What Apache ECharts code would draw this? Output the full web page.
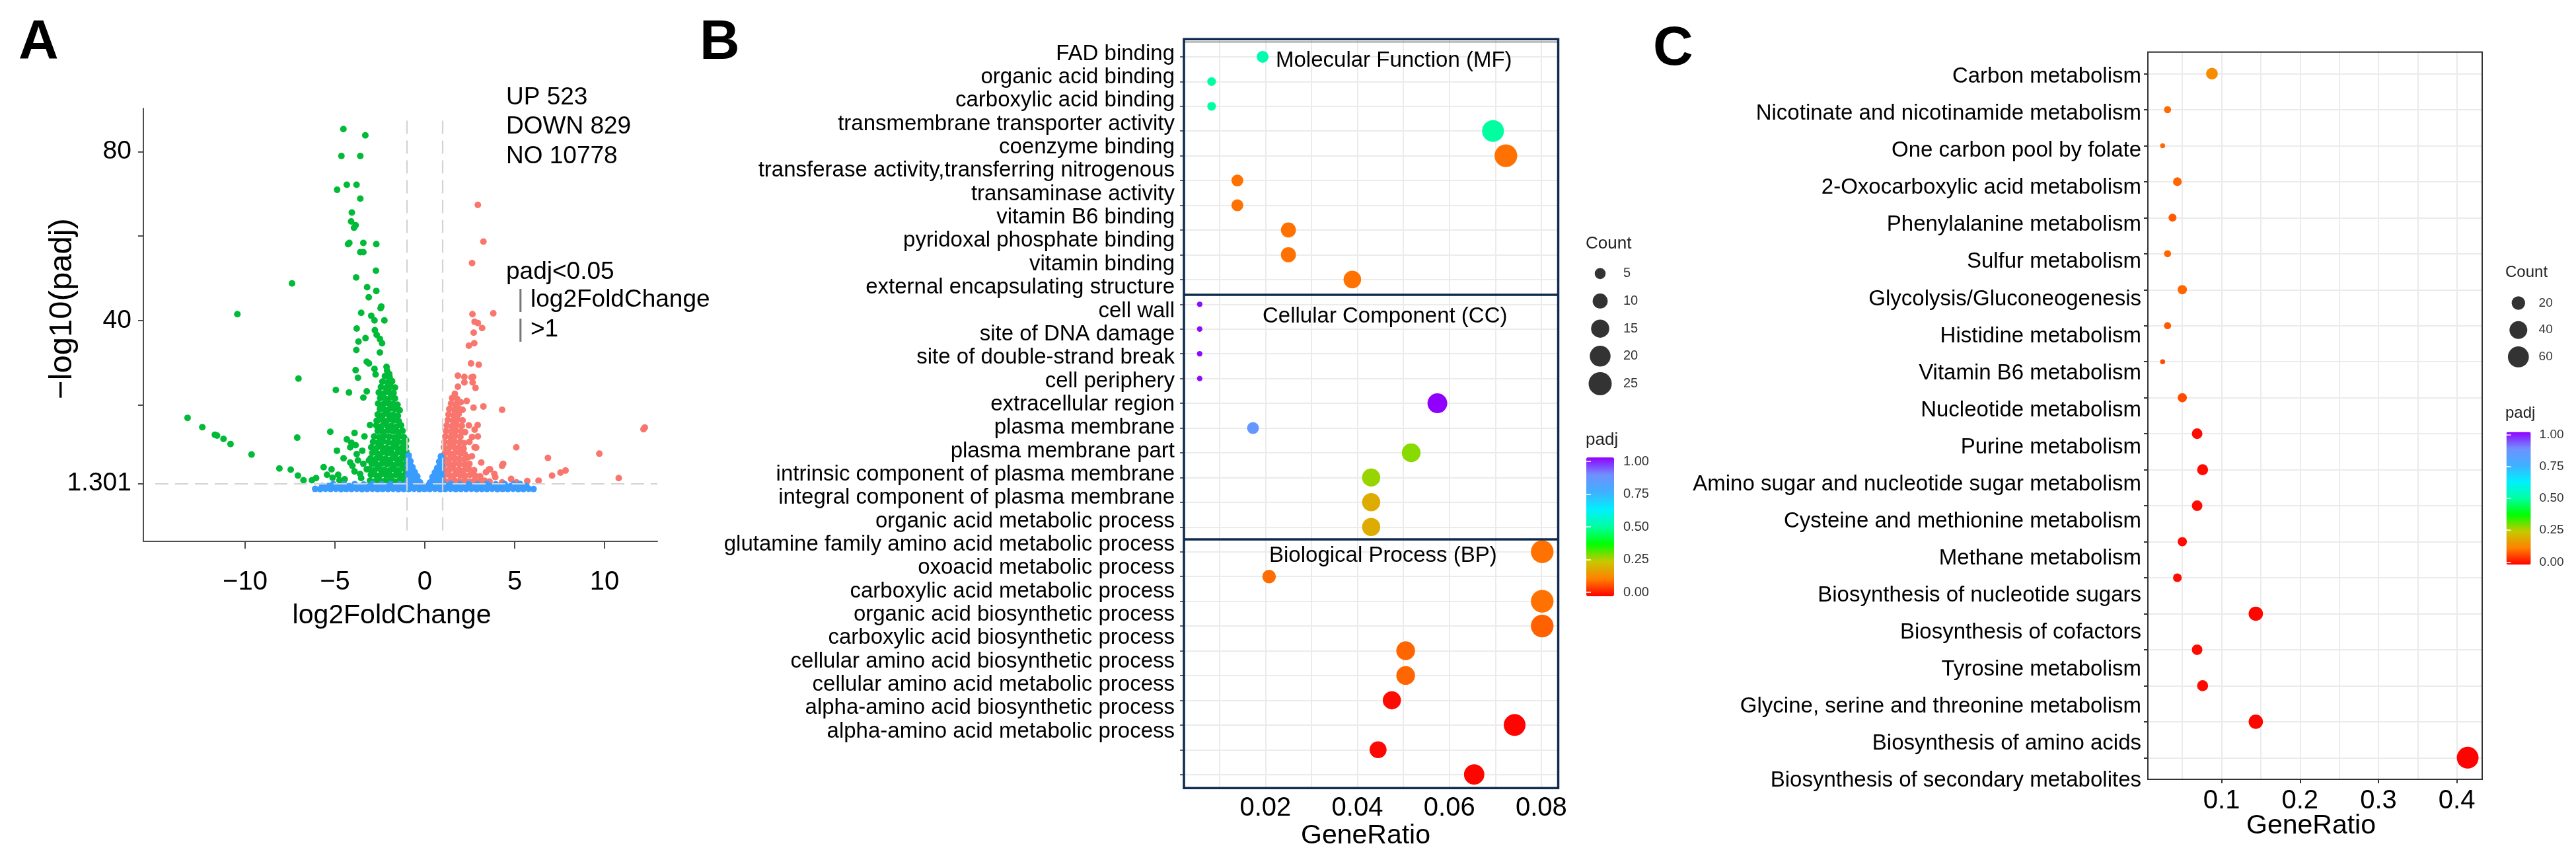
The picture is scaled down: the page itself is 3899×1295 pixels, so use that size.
<!DOCTYPE html>
<html><head><meta charset="utf-8">
<script src="https://cdn.jsdelivr.net/npm/echarts@6/dist/echarts.min.js"></script>
<style>html,body{margin:0;padding:0;background:#fff}#c{width:3899px;height:1295px}</style>
</head><body><div id="c"></div>
<script>
// ===================== Panel A: volcano =====================
const volcanoXTicks = [-10, -5, 0, 5, 10];
const volcanoYTicks = [1.301, 20, 40, 60, 80];
const volcanoYLabels = [1.301, 40, 80];
const fcThresholds = [-1, 1];
const padjThreshold = 1.301;
const volcanoSummary = ['UP 523', 'DOWN 829', 'NO 10778'];
const volcanoRule = ['padj<0.05', 'log2FoldChange', '>1'];

const downGenes = [
 [-4.53,85.4],[-3.31,83.9],[-4.64,79.0],[-3.59,79.0],[-4.88,71.0],[-4.34,72.2],[-3.80,72.2],[-3.59,68.9],[-4.06,65.6],[-4.10,63.5],
 [-3.85,62.6],[-3.94,62.0],[-4.20,58.4],[-4.27,58.1],[-3.42,58.4],[-2.70,58.1],[-3.59,56.2],[-3.42,56.2],[-2.72,51.8],[-3.82,50.2],
 [-7.39,48.8],[-3.21,47.9],[-2.70,47.0],[-3.12,45.5],[-2.42,43.3],[-2.46,42.9],[-10.43,41.5],[-7.03,26.2],[-13.20,16.9],[-12.38,14.7],
 [-11.68,12.9],[-11.56,12.7],[-11.20,11.9],[-10.81,10.7],[-9.64,8.2],[-7.10,12.2],[-8.09,4.9],[-7.46,4.6],[-7.06,3.2],[-6.75,2.1],[-6.28,2.1],
 [-6.05,2.6],[-5.63,5.2],[-5.44,3.4],[-5.19,4.7],[-5.13,2.7],[-5.26,13.6],[-4.95,23.5],[-4.89,9.1],[-4.82,3.4],[-4.75,2.1],
 [-4.52,7.3],[-4.46,2.35],[-4.34,11.8],[-4.22,22.9],[-4.15,9.9],[-4.15,6.3],[-4.09,11.0],[-4.03,5.5],[-3.91,13.3],[-3.91,4.2],
 [-3.85,10.4],[-3.79,8.3],[-3.72,6.8],[-3.60,3.6],[-3.54,2.6],[-3.48,9.1],[-3.42,6.0],[-3.36,12.5],[-3.23,4.7],[-3.11,6.8],
 [-3.05,15.2],[-2.68,16.2],[-3.85,28.2],[-3.72,26.4],[-3.79,38.1],[-3.69,35.0],[-3.81,33.0],[-3.42,21.7],[-3.23,30.2],[-3.11,29.8],
 [-3.30,35.8],[-3.23,23.2],[-2.80,28.5],[-2.74,27.2],[-2.78,37.7],[-2.68,36.6],[-2.50,35.6],[-2.38,34.6],[-2.50,32.4],[-2.25,40.0],
 [-2.13,29.0],[-2.80,40.0],[-2.98,41.1],[-3.54,41.8],
 [-3.05,2.0],[-2.78,1.8],[-2.50,2.1],[-2.22,1.9],[-1.95,2.0],[-1.68,1.8],[-1.41,2.1],[-1.15,1.9],[-1.03,2.4],
 [-3.00,3.4],[-2.70,3.2],[-2.43,3.5],[-2.15,3.3],[-1.86,3.1],[-1.60,3.4],[-1.33,3.2],[-1.08,3.5],
 [-3.08,4.7],[-2.80,4.5],[-2.52,4.8],[-2.25,4.6],[-1.97,4.4],[-1.70,4.7],[-1.42,4.5],[-1.14,4.8],
 [-2.95,6.0],[-2.66,5.8],[-2.38,6.1],[-2.10,5.9],[-1.82,5.7],[-1.55,6.0],[-1.27,5.8],[-1.04,6.1],
 [-3.02,7.3],[-2.74,7.1],[-2.46,7.4],[-2.18,7.2],[-1.90,7.0],[-1.62,7.3],[-1.35,7.1],[-1.08,7.4],
 [-2.92,8.6],[-2.64,8.4],[-2.36,8.7],[-2.08,8.5],[-1.80,8.3],[-1.53,8.6],[-1.26,8.4],[-1.03,8.8],
 [-2.98,9.9],[-2.70,9.7],[-2.42,10.0],[-2.14,9.8],[-1.86,9.6],[-1.58,9.9],[-1.31,9.7],[-1.06,10.1],
 [-2.88,11.2],[-2.60,11.0],[-2.32,11.3],[-2.04,11.1],[-1.76,10.9],[-1.48,11.2],[-1.21,11.0],[-1.04,11.6],
 [-2.82,12.5],[-2.54,12.3],[-2.26,12.6],[-1.98,12.4],[-1.70,12.2],[-1.43,12.5],[-1.16,12.3],
 [-2.62,13.8],[-2.34,13.6],[-2.06,13.9],[-1.78,13.7],[-1.50,13.5],[-1.24,13.8],
 [-2.70,15.1],[-2.42,14.9],[-2.14,15.2],[-1.86,15.0],[-1.58,14.8],[-1.32,15.1],
 [-2.56,16.4],[-2.28,16.2],[-2.00,16.5],[-1.72,16.3],[-1.45,16.1],
 [-2.62,17.7],[-2.34,17.5],[-2.06,17.8],[-1.78,17.6],[-1.50,17.4],
 [-2.50,19.0],[-2.22,18.8],[-1.94,19.1],[-1.66,18.9],[-1.40,18.7],
 [-2.60,20.3],[-2.32,20.1],[-2.04,20.4],[-1.76,20.2],[-1.52,20.0],
 [-2.48,21.6],[-2.20,21.4],[-1.92,21.7],[-1.66,21.5],
 [-2.56,22.9],[-2.28,22.7],[-2.00,23.0],[-1.74,22.8],
 [-2.44,24.2],[-2.16,24.0],[-1.88,24.3],[-1.66,24.1],
 [-2.36,25.5],[-2.08,25.3],[-1.82,25.6],
 [-2.22,26.8],[-1.96,26.6],[-2.10,28.1],[-1.98,27.3]
];

const upGenes = [
 [2.95,67.4],[3.26,58.7],[2.63,53.6],[12.17,14.2],[12.24,14.6],[9.71,8.4],[6.85,7.4],[7.08,3.2],[7.55,3.9],[7.83,4.4],[10.79,2.6],
 [2.65,41.5],[3.81,41.7],[2.77,39.7],[2.95,39.4],[3.19,38.2],[2.72,37.1],[2.45,34.0],[2.75,34.6],[2.57,29.8],[3.00,29.5],
 [2.20,26.6],[1.84,26.9],[2.60,26.5],[2.66,25.3],[2.82,24.0],[2.33,20.9],[2.71,19.3],[3.26,19.6],[4.30,18.8],[2.94,15.2],
 [2.77,14.1],[2.95,12.5],[2.77,9.9],[5.09,9.9],[3.14,6.3],[4.36,6.0],[4.30,5.5],[3.63,4.7],[3.87,3.6],[4.30,1.6],
 [4.80,2.4],[5.10,1.6],[6.33,2.0],[1.73,19.9],[2.10,18.8],[1.67,22.6],[1.84,24.3],[2.20,25.3],[2.69,26.6],[2.45,15.1],
 [2.48,11.2],[2.62,7.8],[3.40,4.0],[5.70,1.9],[2.63,12.35],[2.86,9.85],[3.56,4.65],[3.92,2.85],
 [1.08,2.0],[1.36,1.8],[1.64,2.1],[1.92,1.9],[2.20,2.0],[2.48,1.8],[2.76,2.1],[3.04,1.9],[3.32,2.0],[3.60,1.8],
 [1.12,3.4],[1.40,3.2],[1.68,3.5],[1.96,3.3],[2.24,3.1],[2.52,3.4],[2.80,3.2],[3.08,3.0],
 [1.06,4.7],[1.34,4.5],[1.62,4.8],[1.90,4.6],[2.18,4.4],[2.46,4.7],[2.74,4.5],
 [1.10,6.0],[1.38,5.8],[1.66,6.1],[1.94,5.9],[2.22,5.7],[2.48,6.0],
 [1.08,7.3],[1.36,7.1],[1.64,7.4],[1.92,7.2],[2.20,7.0],[2.40,7.5],
 [1.12,8.6],[1.40,8.4],[1.68,8.7],[1.96,8.5],[2.22,8.3],
 [1.06,9.9],[1.34,9.7],[1.62,10.0],[1.90,9.8],[2.16,9.6],
 [1.10,11.2],[1.38,11.0],[1.66,11.3],[1.94,11.1],[2.18,10.9],
 [1.14,12.5],[1.42,12.3],[1.70,12.6],[1.98,12.4],
 [1.18,13.8],[1.46,13.6],[1.74,13.9],[2.02,13.7],[2.24,13.5],
 [1.22,15.1],[1.50,14.9],[1.78,15.2],[2.06,15.0],
 [1.28,16.4],[1.56,16.2],[1.84,16.5],[2.10,16.3],
 [1.32,17.7],[1.60,17.5],[1.88,17.8],
 [1.36,19.0],[1.64,18.8],[1.90,19.1],
 [1.46,20.3],[1.72,20.1],[2.00,20.6],
 [1.52,21.6],[1.80,21.4]
];

const noGenes = [
 [-6.10,0.05],[-5.82,0.00],[-5.53,0.08],[-5.24,0.02],[-4.95,0.06],[-4.66,0.00],[-4.37,0.05],[-4.08,0.02],[-3.79,0.07],[-3.50,0.00],
 [-3.21,0.04],[-2.92,0.06],[-2.63,0.01],[-2.34,0.05],[-2.05,0.03],[-1.76,0.07],[-1.47,0.00],[-1.18,0.04],[-0.89,0.02],[-0.60,0.06],
 [-0.31,0.00],[-0.02,0.05],[0.27,0.02],[0.56,0.07],[0.85,0.00],[1.14,0.04],[1.43,0.06],[1.72,0.01],[2.01,0.05],[2.30,0.03],
 [2.59,0.07],[2.88,0.00],[3.17,0.04],[3.46,0.02],[3.75,0.06],[4.04,0.00],[4.33,0.05],[4.62,0.03],[4.91,0.07],[5.20,0.01],
 [5.49,0.04],[5.78,0.06],[6.05,0.02],
 [-5.70,0.72],[-5.37,0.75],[-5.08,0.70],[-4.79,0.66],[-4.50,0.74],[-4.21,0.69],[-3.92,0.73],[-3.63,0.67],[-3.34,0.71],[-3.05,0.75],
 [-2.76,0.68],[-2.47,0.72],[-2.18,0.70],[-1.89,0.66],[-1.60,0.74],[-1.31,0.69],[-1.02,0.73],[-0.73,0.67],[-0.44,0.71],[-0.15,0.75],
 [0.14,0.68],[0.43,0.72],[0.72,0.70],[1.01,0.66],[1.30,0.74],[1.59,0.69],[1.88,0.73],[2.17,0.67],[2.46,0.71],[2.75,0.75],
 [3.04,0.68],[3.33,0.72],[3.62,0.70],[3.91,0.66],[4.20,0.74],[4.49,0.69],[4.78,0.73],[5.07,0.67],[5.36,0.71],[5.65,0.75],
 [-5.10,1.20],[-4.50,1.12],[-3.90,1.18],[-3.40,1.10],[-2.90,1.20],[-2.40,1.14],[-1.90,1.17],[-1.40,1.12],[-1.05,1.20],
 [1.05,1.15],[1.45,1.20],[1.95,1.12],[2.45,1.18],[2.95,1.10],[3.45,1.20],[3.95,1.14],[4.45,1.17],[4.95,1.12],[5.30,1.20],
 [-0.90,8.0],[-0.90,7.3],[-0.92,6.8],[-0.80,6.6],[-0.93,5.6],[-0.80,5.5],[-0.69,5.2],[-0.92,4.4],[-0.78,4.3],[-0.65,4.4],
 [-0.56,4.0],[-0.93,3.2],[-0.80,3.1],[-0.66,3.2],[-0.52,3.1],[-0.42,3.0],[-0.92,2.0],[-0.78,2.0],[-0.64,2.1],[-0.50,2.0],
 [-0.37,1.9],[-0.27,1.6],[-0.88,1.2],[-0.60,1.2],[-0.35,1.1],
 [0.90,7.8],[0.90,7.1],[0.92,6.8],[0.80,6.5],[0.93,5.6],[0.80,5.4],[0.69,5.0],[0.92,4.4],[0.78,4.3],[0.65,4.3],
 [0.56,3.9],[0.93,3.2],[0.80,3.1],[0.66,3.1],[0.52,3.0],[0.43,2.9],[0.92,2.0],[0.78,2.0],[0.64,2.0],[0.50,1.9],
 [0.38,1.8],[0.28,1.5],[0.88,1.2],[0.60,1.2],[0.35,1.1]
];

// ===================== Panel B: GO enrichment =====================
const goTerms = [
 'FAD binding','organic acid binding','carboxylic acid binding','transmembrane transporter activity','coenzyme binding',
 'transferase activity,transferring nitrogenous','transaminase activity','vitamin B6 binding','pyridoxal phosphate binding','vitamin binding',
 'external encapsulating structure','cell wall','site of DNA damage','site of double-strand break','cell periphery',
 'extracellular region','plasma membrane','plasma membrane part','intrinsic component of plasma membrane','integral component of plasma membrane',
 'organic acid metabolic process','glutamine family amino acid metabolic process','oxoacid metabolic process','carboxylic acid metabolic process','organic acid biosynthetic process',
 'carboxylic acid biosynthetic process','cellular amino acid biosynthetic process','cellular amino acid metabolic process','alpha-amino acid biosynthetic process','alpha-amino acid metabolic process'
];
const goGeneRatio = [0.0194,0.0083,0.0083,0.0695,0.0723,0.0139,0.0139,0.0250,0.0250,0.0389,
                     0.0057,0.0057,0.0057,0.0057,0.0574,0.0173,0.0517,0.0430,0.0430,0.0430,
                     0.0802,0.0208,0.0802,0.0802,0.0505,0.0505,0.0475,0.0742,0.0445,0.0654];
const goCount = [6,3,3,22,24,6,6,10,10,14, 1,1,1,1,18,6,16,15,15,15, 24,8,24,24,16,16,15,22,13,19];
const goPadj = [0.52,0.5,0.5,0.5,0.11,0.11,0.11,0.11,0.11,0.11,
                0.99,0.99,0.99,0.99,1.0,0.85,0.29,0.28,0.2,0.2,
                0.11,0.105,0.11,0.095,0.1,0.1,0.01,0.004,0.006,0.005];
const goSections = ['Molecular Function (MF)', 'Cellular Component (CC)', 'Biological Process (BP)'];
const goSectionBreaks = [10.6, 20.5];
const goXTicks = [0.02, 0.04, 0.06, 0.08];
const goXGrid = [0.01, 0.02, 0.03, 0.04, 0.05, 0.06, 0.07, 0.08];
const goCountLegend = [5, 10, 15, 20, 25];
const padjLegend = [0, 0.25, 0.5, 0.75, 1];

// ===================== Panel C: KEGG enrichment =====================
const keggTerms = [
 'Carbon metabolism','Nicotinate and nicotinamide metabolism','One carbon pool by folate','2-Oxocarboxylic acid metabolism','Phenylalanine metabolism',
 'Sulfur metabolism','Glycolysis/Gluconeogenesis','Histidine metabolism','Vitamin B6 metabolism','Nucleotide metabolism',
 'Purine metabolism','Amino sugar and nucleotide sugar metabolism','Cysteine and methionine metabolism','Methane metabolism','Biosynthesis of nucleotide sugars',
 'Biosynthesis of cofactors','Tyrosine metabolism','Glycine, serine and threonine metabolism','Biosynthesis of amino acids','Biosynthesis of secondary metabolites'
];
const keggGeneRatio = [0.0877,0.0311,0.0248,0.0436,0.0374,0.0311,0.0499,0.0311,0.0248,0.0499,
                       0.0688,0.0758,0.0688,0.0499,0.0436,0.1436,0.0688,0.0758,0.1436,0.4138];
const keggCount = [14,5,4,7,6,5,8,5,4,8, 11,12,11,8,7,23,11,12,23,66];
const keggPadj = [0.146,0.104,0.104,0.1,0.088,0.1,0.1,0.088,0.073,0.073,
                  0.01,0.01,0.012,0.012,0.012,0.005,0.01,0.01,0.005,0.003];
const keggXTicks = [0.1, 0.2, 0.3, 0.4];
const keggXGrid = [0.05, 0.1, 0.15, 0.2, 0.25, 0.3, 0.35, 0.4];
const keggCountLegend = [20, 40, 60];

// ===================== styling =====================
const FONT = 'Liberation Sans, Arial, Helvetica, sans-serif';
const rainbow = ['#FF0000','#FF8000','#C8C800','#00FF00','#00FFA0','#00F0FF','#40B0FF','#7090FF','#9000FF'];
const NAVY = '#0E2A4E';
const sizeB = c => 1.7 + 6.66 * Math.sqrt(c);
const sizeC = c => 7.5 + 25.5 * Math.sqrt(Math.max(c - 4, 0) / 62);
const minusFmt = v => (v < 0 ? '\u2212' + Math.abs(v) : String(v));

const goRows = goTerms.map((_, i) => i + 1);
const keggRows = keggTerms.map((_, i) => i + 1);

const hidden = { show: false };
function hiddenX(grid) { return { gridIndex: grid, type: 'value', min: 0, max: 1, show: false }; }

const grids = [
  { left: 217, top: 164, width: 778, height: 655 },          // 0 A
  { left: 1792, top: 59.3, width: 566.5, height: 1133 },     // 1 B main
  { left: 1779, top: 64.0, width: 1, height: 1060.2 },       // 2 B labels
  { left: 2400, top: 393, width: 44, height: 208.3 },        // 3 B size legend
  { left: 2401, top: 698, width: 42, height: 198 },          // 4 B colorbar axis
  { left: 3251, top: 78.8, width: 506, height: 1100.2 },     // 5 C main
  { left: 3242, top: 88, width: 1, height: 1121.4 },         // 6 C labels
  { left: 3793, top: 438.2, width: 37.6, height: 122.1 },    // 7 C size legend
  { left: 3793.6, top: 658, width: 37, height: 192.3 }       // 8 C colorbar axis
];

const xAxes = [
  { gridIndex: 0, type: 'value', min: -15.66, max: 12.94,
    axisLine: { onZero: false, lineStyle: { color: '#4d4d4d', width: 2 } },
    axisTick: { customValues: volcanoXTicks, length: 11, lineStyle: { color: '#4d4d4d', width: 2 } },
    axisLabel: { customValues: volcanoXTicks, formatter: minusFmt, fontSize: 40, color: '#000', margin: 42, fontFamily: FONT },
    splitLine: hidden },
  { gridIndex: 1, type: 'value', min: 0.00228, max: 0.08368,
    axisLine: { show: false, onZero: false }, axisTick: { show: false },
    axisLabel: { customValues: goXTicks, formatter: v => v.toFixed(2), fontSize: 40, color: '#000', margin: 11, fontFamily: FONT },
    splitLine: hidden },
  hiddenX(2), hiddenX(3), hiddenX(4),
  { gridIndex: 5, type: 'value', min: 0.006, max: 0.4323,
    axisLine: { show: false, onZero: false },
    axisTick: { customValues: keggXTicks, length: 6, lineStyle: { color: '#333', width: 2 } },
    axisLabel: { customValues: keggXTicks, formatter: v => String(v), fontSize: 40, color: '#000', margin: 13, fontFamily: FONT },
    splitLine: hidden },
  hiddenX(6), hiddenX(7), hiddenX(8)
];

const yAxes = [
  { gridIndex: 0, type: 'value', min: -12.4, max: 90.3,
    axisLine: { onZero: false, lineStyle: { color: '#4d4d4d', width: 2 } },
    axisTick: { customValues: volcanoYTicks, length: 8, lineStyle: { color: '#4d4d4d', width: 2 } },
    axisLabel: { customValues: volcanoYLabels, formatter: v => String(v), fontSize: 39, color: '#000', margin: 18, fontFamily: FONT },
    splitLine: hidden },
  { gridIndex: 1, type: 'value', inverse: true, min: 0.29, max: 30.55,
    axisLine: { show: false, onZero: false },
    axisTick: { customValues: goRows, length: 6, lineStyle: { color: '#666', width: 2 } },
    axisLabel: { show: false }, splitLine: hidden },
  { gridIndex: 2, type: 'category', inverse: true, data: goTerms,
    axisLine: hidden, axisTick: hidden,
    axisLabel: { interval: 0, fontSize: 33, color: '#000', margin: 1, fontFamily: FONT } },
  { gridIndex: 3, type: 'category', inverse: true, position: 'right', data: goCountLegend.map(String),
    axisLine: hidden, axisTick: hidden,
    axisLabel: { interval: 0, fontSize: 20, color: '#333', margin: 13, fontFamily: FONT } },
  { gridIndex: 4, type: 'value', min: 0, max: 1, interval: 0.25, position: 'right', z: 10,
    axisLine: hidden, splitLine: hidden,
    axisTick: { inside: true, length: 7, lineStyle: { color: '#fff', width: 1.5 } },
    axisLabel: { formatter: v => v.toFixed(2), fontSize: 20, color: '#333', margin: 14, fontFamily: FONT } },
  { gridIndex: 4, type: 'value', min: 0, max: 1, interval: 0.25, position: 'left', z: 10,
    axisLine: hidden, splitLine: hidden, axisLabel: hidden,
    axisTick: { inside: true, length: 7, lineStyle: { color: '#fff', width: 1.5 } } },
  { gridIndex: 5, type: 'value', inverse: true, min: 0.4, max: 20.6,
    axisLine: { show: false, onZero: false },
    axisTick: { customValues: keggRows, length: 6, lineStyle: { color: '#333', width: 2 } },
    axisLabel: { show: false }, splitLine: hidden },
  { gridIndex: 6, type: 'category', inverse: true, data: keggTerms,
    axisLine: hidden, axisTick: hidden,
    axisLabel: { interval: 0, fontSize: 33, color: '#000', margin: 1, fontFamily: FONT } },
  { gridIndex: 7, type: 'category', inverse: true, position: 'right', data: keggCountLegend.map(String),
    axisLine: hidden, axisTick: hidden,
    axisLabel: { interval: 0, fontSize: 19, color: '#333', margin: 12, fontFamily: FONT } },
  { gridIndex: 8, type: 'value', min: 0, max: 1, interval: 0.25, position: 'right', z: 10,
    axisLine: hidden, splitLine: hidden,
    axisTick: { inside: true, length: 7, lineStyle: { color: '#fff', width: 1.5 } },
    axisLabel: { formatter: v => v.toFixed(2), fontSize: 19, color: '#333', margin: 13, fontFamily: FONT } },
  { gridIndex: 8, type: 'value', min: 0, max: 1, interval: 0.25, position: 'left', z: 10,
    axisLine: hidden, splitLine: hidden, axisLabel: hidden,
    axisTick: { inside: true, length: 7, lineStyle: { color: '#fff', width: 1.5 } } }
];

const gridLineStyle = { color: '#EBEBEB', width: 2, type: 'solid' };
const series = [
  { type: 'scatter', xAxisIndex: 0, yAxisIndex: 0, data: downGenes, symbolSize: 10, itemStyle: { color: '#00BA38', opacity: 1 }, z: 2 },
  { type: 'scatter', xAxisIndex: 0, yAxisIndex: 0, data: upGenes, symbolSize: 10, itemStyle: { color: '#F8766D', opacity: 1 }, z: 2 },
  { type: 'scatter', xAxisIndex: 0, yAxisIndex: 0, data: noGenes, symbolSize: 10, itemStyle: { color: '#3A9CFF', opacity: 1 }, z: 3 },
  { type: 'scatter', xAxisIndex: 0, yAxisIndex: 0, data: [], z: 5,
    markLine: { z: 5, silent: true, symbol: ['none', 'none'], label: hidden, animation: false,
      lineStyle: { color: '#D3D3D3', width: 2.2, type: [20, 10] },
      data: [
        ...fcThresholds.map(t => [{ coord: [t, -9.8] }, { coord: [t, 88] }]),
        [{ coord: [-15, padjThreshold] }, { coord: [12.94, padjThreshold] }]
      ] } },
  // B
  { type: 'scatter', xAxisIndex: 1, yAxisIndex: 1, data: [], z: 1,
    markLine: { z: 1, silent: true, symbol: ['none', 'none'], label: hidden, animation: false, lineStyle: gridLineStyle,
      data: [...goXGrid.map(v => ({ xAxis: v })), ...goRows.map(r => ({ yAxis: r }))] } },
  { type: 'scatter', xAxisIndex: 1, yAxisIndex: 1, z: 3,
    data: goTerms.map((t, i) => [goGeneRatio[i], i + 1, goPadj[i], goCount[i], t]),
    symbolSize: v => sizeB(v[3]), itemStyle: { opacity: 1 } },
  { type: 'scatter', xAxisIndex: 1, yAxisIndex: 1, data: [], z: 6,
    markLine: { z: 6, silent: true, symbol: ['none', 'none'], label: hidden, animation: false,
      lineStyle: { color: NAVY, width: 3.5, type: 'solid' },
      data: goSectionBreaks.map(r => ({ yAxis: r })) } },
  { type: 'scatter', xAxisIndex: 3, yAxisIndex: 3, data: goCountLegend.map((c, i) => [0.5, i, c]),
    symbolSize: v => sizeB(v[2]), itemStyle: { color: '#000' } },
  // C
  { type: 'scatter', xAxisIndex: 5, yAxisIndex: 6, data: [], z: 1,
    markLine: { z: 1, silent: true, symbol: ['none', 'none'], label: hidden, animation: false, lineStyle: gridLineStyle,
      data: [...keggXGrid.map(v => ({ xAxis: v })), ...keggRows.map(r => ({ yAxis: r }))] } },
  { type: 'scatter', xAxisIndex: 5, yAxisIndex: 6, z: 3,
    data: keggTerms.map((t, i) => [keggGeneRatio[i], i + 1, keggPadj[i], keggCount[i], t]),
    symbolSize: v => sizeC(v[3]), itemStyle: { opacity: 1 } },
  { type: 'scatter', xAxisIndex: 7, yAxisIndex: 8, data: keggCountLegend.map((c, i) => [0.5, i, c]),
    symbolSize: v => sizeC(v[2]), itemStyle: { color: '#000' } }
];

function txt(x, y, text, size, opts) {
  return Object.assign({ type: 'text', x: x, y: y, z: 20, silent: true,
    style: Object.assign({ text: text, fontSize: size, fontFamily: FONT, fill: '#000', align: 'left', verticalAlign: 'middle' }, (opts && opts.style) || {}) },
    (opts && opts.el) || {});
}

const graphics = [
  txt(28, 66, 'A', 84, { style: { fontWeight: 'bold' } }),
  txt(1059, 66, 'B', 84, { style: { fontWeight: 'bold' } }),
  txt(2502, 75, 'C', 84, { style: { fontWeight: 'bold' } }),
  // A annotations
  txt(766, 148, volcanoSummary[0], 37),
  txt(766, 192, volcanoSummary[1], 37),
  txt(766, 237, volcanoSummary[2], 37),
  txt(766, 412, volcanoRule[0], 37),
  txt(783, 454, '|', 37, { style: { fill: '#777' } }),
  txt(803, 454, volcanoRule[1], 37),
  txt(783, 499, '|', 37, { style: { fill: '#777' } }),
  txt(803, 499, volcanoRule[2], 37),
  txt(94, 467, '\u2212log10(padj)', 49, { style: { align: 'center' }, el: { rotation: Math.PI / 2 } }),
  txt(593, 932, 'log2FoldChange', 41, { style: { align: 'center' } }),
  // B
  txt(1931, 92, goSections[0], 33),
  txt(1911, 479, goSections[1], 33),
  txt(1921, 841, goSections[2], 33),
  txt(2067, 1265, 'GeneRatio', 41, { style: { align: 'center' } }),
  txt(2400, 369, 'Count', 26, { style: { fill: '#222' } }),
  txt(2400, 666, 'padj', 26, { style: { fill: '#222' } }),
  { type: 'line', z: 19, silent: true, shape: { x1: 1792, y1: 63.5, x2: 2358.5, y2: 63.5 }, style: { stroke: '#9a9a9a', lineWidth: 2 } },
  { type: 'rect', z: 19, silent: true, shape: { x: 1792, y: 59.3, width: 566.5, height: 1133 }, style: { fill: 'none', stroke: NAVY, lineWidth: 3.5 } },
  // C
  txt(3498, 1250, 'GeneRatio', 41, { style: { align: 'center' } }),
  txt(3792, 412, 'Count', 24, { style: { fill: '#222' } }),
  txt(3792, 625, 'padj', 24, { style: { fill: '#222' } }),
  { type: 'rect', z: 19, silent: true, shape: { x: 3251, y: 78.8, width: 506, height: 1100.2 }, style: { fill: 'none', stroke: '#333', lineWidth: 2 } }
];

const option = {
  animation: false,
  backgroundColor: '#fff',
  grid: grids,
  xAxis: xAxes,
  yAxis: yAxes,
  visualMap: [
    { type: 'continuous', seriesIndex: 5, dimension: 2, min: 0, max: 1, calculable: false, show: true,
      inRange: { color: rainbow }, left: 2401, top: 692, itemWidth: 42, itemHeight: 210, padding: 0, text: null, hoverLink: false },
    { type: 'continuous', seriesIndex: 9, dimension: 2, min: 0, max: 1, calculable: false, show: true,
      inRange: { color: rainbow }, left: 3793.6, top: 653.6, itemWidth: 37, itemHeight: 200.7, padding: 0, text: null, hoverLink: false }
  ],
  series: series,
  graphic: graphics
};

const chart = echarts.init(document.getElementById('c'), null, { renderer: 'canvas' });
chart.setOption(option);
</script>
</body></html>
